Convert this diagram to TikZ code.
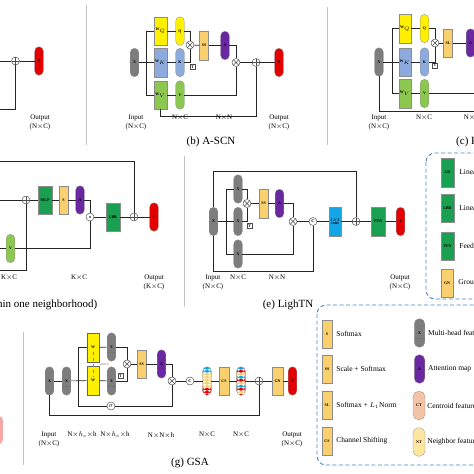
\documentclass[tikz,border=0pt]{standalone}
\usepackage{fontspec}
\setmainfont{Liberation Serif}
\usetikzlibrary{positioning,calc}
\definecolor{wyellow}{RGB}{255,240,0}
\definecolor{smx}{RGB}{250,207,110}
\definecolor{kblue}{RGB}{140,170,220}
\definecolor{vgreen}{RGB}{140,200,80}
\definecolor{lgreen}{RGB}{25,160,80}
\definecolor{attn}{RGB}{105,40,160}
\definecolor{outred}{RGB}{228,0,0}
\definecolor{headgray}{RGB}{125,125,125}
\definecolor{convblue}{RGB}{20,165,230}
\definecolor{ctpeach}{RGB}{245,195,165}
\definecolor{ntcream}{RGB}{255,230,160}
\definecolor{dashblue}{RGB}{70,135,190}
\definecolor{sepgray}{RGB}{195,195,195}
\tikzset{
  wire/.style={draw=black!85, line width=0.65pt},
  blk/.style={
    draw         = black!45,
    line width   = 0.3pt,
    minimum width  = 12.5pt,
    minimum height = 28.5pt,
    inner sep    = 0pt,
    align        = center,
    font         = \fontsize{4}{4}\selectfont\bfseries},
  feat/.style={blk, rounded corners=4.3pt, minimum width=8.6pt},
  smxbox/.style={blk, fill=smx, minimum width=9pt},
  op/.style={
    circle,
    draw       = black!70,
    fill       = white,
    line width = 0.45pt,
    minimum size = 8pt,
    inner sep  = 0pt,
    font       = \fontsize{4.5}{4.5}\selectfont\bfseries},
  addop/.style={op, path picture={
    \draw[black!70, line width=0.4pt]
      (path picture bounding box.north) -- (path picture bounding box.south)
      (path picture bounding box.west) -- (path picture bounding box.east);}},
  mulop/.style={op, path picture={
    \draw[black!70, line width=0.4pt]
      (path picture bounding box.north west) -- (path picture bounding box.south east)
      (path picture bounding box.north east) -- (path picture bounding box.south west);}},
  dotop/.style={op, path picture={
    \fill[black] (path picture bounding box.center) circle (0.9pt);}},
  catop/.style={op},
  trbox/.style={draw=black!70, fill=white, line width=0.3pt, minimum size=5pt,
    inner sep=0pt, font=\fontsize{4}{4}\selectfont\bfseries},
  stripes/.style={path picture={
    \foreach \c [count=\i from 0] in {#1}
      \fill[\c] ([yshift=-\i*3pt]path picture bounding box.north west)
        rectangle ([yshift=-\i*3pt-3pt]path picture bounding box.north east);}},
  headsplit/.style={path picture={
    \draw[black!55, line width=0.3pt]
      ([yshift=-5pt]path picture bounding box.west) -- ([yshift=-5pt]path picture bounding box.east);}},
  dimlbl/.style={font=\fontsize{7}{8.5}\selectfont, align=center, inner sep=0pt},
  subcap/.style={font=\fontsize{11}{12}\selectfont, inner sep=0pt},
  divider/.style={draw=sepgray, line width=0.9pt},
  legendbox/.style={draw=dashblue, dash pattern=on 4pt off 2.5pt, line width=0.9pt,
    rounded corners=9pt},
  lgtext/.style={font=\fontsize{7.5}{8}\selectfont, inner sep=0pt}
}

\begin{document}
\begin{tikzpicture}[x=1pt, y=-1pt]
\useasboundingbox (0,0) rectangle (474,474);

% (a), right end only
\coordinate (ain) at (-5,61);
\coordinate (ares) at (-5,109);
\node[addop] (aadd) at (15.5,61) {};
\node[feat, fill=outred] (aout) at (39,61) {Y};
\draw[wire] (ain) -- (aadd);
\draw[wire] (aadd) -- (aout);
\draw[wire] (ares) -| (aadd);
\node[dimlbl] (aoutlbl) at (40,122.5) {Output\\(N$\times$C)};

\draw[divider] (86,5) -- (86,145);

% (b) A-SCN
\node[feat, fill=headgray] (bx) at (134.5,62.5) {X};
\coordinate (bsplit) at (146,62.5);
\node[blk, fill=wyellow] (bwq) at (160.5,31) {W$_Q$};
\node[feat, fill=wyellow] (bq) at (180,31) {Q};
\node[blk, fill=kblue] (bwk) at (160.5,62.5) {W$_K$};
\node[feat, fill=kblue] (bk) at (180,62.5) {K};
\node[blk, fill=vgreen] (bwv) at (160.5,95) {W$_V$};
\node[feat, fill=vgreen] (bv) at (180,95) {V};
\node[mulop] (bm1) at (190,45) {};
\node[trbox] (bt) at (192.5,67) {T};
\node[smxbox] (bss) at (204,45.5) {SS};
\node[feat, fill=attn] (ba) at (225,45.5) {A};
\node[mulop] (bm2) at (236,62.5) {};
\node[addop] (badd) at (256,62.5) {};
\node[feat, fill=outred] (bout) at (279,62.5) {Y};

\draw[wire] (bx) -- (bwk);
\draw[wire] (bsplit) |- (bwq);
\draw[wire] (bsplit) |- (bwv);
\draw[wire] (bwq) -- (bq);
\draw[wire] (bwk) -- (bk);
\draw[wire] (bwv) -- (bv);
\draw[wire] (bq) -| (bm1);
\draw[wire] (bk) -| (bm1);
\draw[wire] (bm1) -- (bss);
\draw[wire] (bss) -- (ba);
\draw[wire] (ba) -| (bm2);
\draw[wire] (bv) -| (bm2);
\draw[wire] (bm2) -- (badd);
\draw[wire] (badd) -- (bout);
\draw[wire] (bwv.south) -- ++(0,7) -| (badd);

\node[dimlbl] (binlbl) at (136,122.5) {Input\\(N$\times$C)};
\node[dimlbl] (bnc) at (180,118) {N$\times$C};
\node[dimlbl] (bnn) at (224,118) {N$\times$N};
\node[dimlbl] (boutlbl) at (279,122.5) {Output\\(N$\times$C)};
\node[subcap] (bcap) at (211,142) {(b) A-SCN};

\draw[divider] (327,7) -- (327,145);

% (c), left part
\node[feat, fill=headgray] (cx) at (379,62) {X};
\coordinate (csplit) at (392,62);
\node[blk, fill=wyellow] (cwq) at (405,28.5) {W$_Q$};
\node[feat, fill=wyellow] (cq) at (424.5,28.5) {Q};
\node[blk, fill=kblue] (cwk) at (405,62) {W$_K$};
\node[feat, fill=kblue] (ck) at (424.5,62) {K};
\node[blk, fill=vgreen] (cwv) at (405,93.5) {W$_V$};
\node[feat, fill=vgreen] (cv) at (424.5,93.5) {V};
\node[mulop] (cm) at (435,43) {};
\node[trbox] (ct) at (435,65.5) {T};
\node[smxbox] (csl) at (448,43) {SL};
\node[feat, fill=attn] (ca) at (470.5,43) {A};
\coordinate (cvend) at (480,93.5);
\coordinate (cresend) at (480,111);

\draw[wire] (cx) -- (cwk);
\draw[wire] (csplit) |- (cwq);
\draw[wire] (csplit) |- (cwv);
\draw[wire] (cwq) -- (cq);
\draw[wire] (cwk) -- (ck);
\draw[wire] (cwv) -- (cv);
\draw[wire] (cq) -| (cm);
\draw[wire] (ck) -| (cm);
\draw[wire] (cm) -- (csl);
\draw[wire] (csl) -- (ca);
\draw[wire] (cv) -- (cvend);
\draw[wire] (cx) |- (cresend);

\node[dimlbl] (cinlbl) at (379,122.5) {Input\\(N$\times$C)};
\node[dimlbl] (cnc) at (424,118) {N$\times$C};
\node[dimlbl] (cnn) at (472,118) {N$\times$N};
\node[subcap, anchor=west] (ccap) at (456,142) {(c) PCT};

% (d), right part
\coordinate (dtop) at (-5,161);
\coordinate (din) at (-5,200);
\coordinate (dvin) at (-5,248.5);
\coordinate (dres) at (-5,270);
\node[addop] (dadd1) at (26,200) {};
\node[blk, fill=lgreen, minimum width=14pt] (dmlp) at (45,200) {MLP};
\node[smxbox] (ds) at (63.5,200) {S};
\node[feat, fill=attn] (da) at (80,200) {A};
\node[dotop] (ddot) at (90,217) {};
\node[blk, fill=lgreen, minimum width=14pt] (dlbr) at (113,217) {LBR};
\node[addop] (dadd2) at (134,217) {};
\node[feat, fill=outred] (dout) at (154,217) {Y};
\node[feat, fill=vgreen] (dv) at (10.5,248.5) {V};

\draw[wire] (din) -- (dadd1);
\draw[wire] (dadd1) -- (dmlp);
\draw[wire] (dmlp) -- (ds);
\draw[wire] (ds) -- (da);
\draw[wire] (da) -| (ddot);
\draw[wire] (dvin) -- (dv);
\draw[wire] (dv) -| (ddot);
\draw[wire] (dres) -| (dadd1);
\draw[wire] (ddot) -- (dlbr);
\draw[wire] (dlbr) -- (dadd2);
\draw[wire] (dadd2) -- (dout);
\draw[wire] (dtop) -| (dadd2);

\node[dimlbl] (dkc1) at (9,278) {K$\times$C};
\node[dimlbl] (dkc2) at (79,278) {K$\times$C};
\node[dimlbl] (doutlbl) at (154,282.5) {Output\\(K$\times$C)};
\node[subcap, anchor=east] (dcap) at (97.5,305) {(d) Point Transformer (within one neighborhood)};

\draw[divider] (184,156) -- (184,307);

% (e) LighTN
\node[feat, fill=headgray] (ex) at (213.5,221.5) {X};
\coordinate (esplit) at (226,221.5);
\node[feat, fill=headgray] (eq) at (238,189) {X};
\node[feat, fill=headgray] (ek) at (238,221.5) {X};
\node[feat, fill=headgray] (ev) at (238,254) {X};
\node[mulop] (em1) at (247,203.5) {};
\node[trbox] (et) at (249.5,226) {T};
\node[smxbox] (ess) at (263.5,203.5) {SS};
\node[feat, fill=attn] (ea) at (279.5,203.5) {A};
\node[mulop] (em2) at (293,221.5) {};
\node[catop] (ecat) at (313,221.5) {C};
\node[blk, fill=convblue] (econv) at (335,221.5) {1$\times$1\\[-1pt]conv};
\node[addop] (eadd) at (356,221.5) {};
\node[blk, fill=lgreen, minimum width=14pt] (effn) at (378,221.5) {FFN};
\node[feat, fill=outred] (eout) at (400.5,221.5) {Y};
\coordinate (etopc) at (356,171);
\coordinate (ebotc) at (313,271);

\draw[wire] (ex) -- (ek);
\draw[wire] (esplit) |- (eq);
\draw[wire] (esplit) |- (ev);
\draw[wire] (eq) -| (em1);
\draw[wire] (ek) -| (em1);
\draw[wire] (em1) -- (ess);
\draw[wire] (ess) -- (ea);
\draw[wire] (ea) -| (em2);
\draw[wire] (ev) -| (em2);
\draw[wire] (em2) -- (ecat);
\draw[wire] (ecat) -- (econv);
\draw[wire] (econv) -- (eadd);
\draw[wire] (eadd) -- (effn);
\draw[wire] (effn) -- (eout);
\draw[wire] (ex) |- (etopc) -- (eadd);
\draw[wire] (ex) |- (ebotc) -- (ecat);

\node[dimlbl] (einlbl) at (213,282.5) {Input\\(N$\times$C)};
\node[dimlbl] (enc) at (238,278) {N$\times$C};
\node[dimlbl] (enn) at (277,278) {N$\times$N};
\node[dimlbl] (eoutlbl) at (400,282.5) {Output\\(N$\times$C)};
\node[subcap] (ecap) at (288,305) {(e) LighTN};

% (g) GSA
\node[feat, fill=outred!35, draw=none] (fout) at (-1.5,430) {};
\draw[divider] (23,332) -- (23,465);

\node[feat, fill=headgray] (gx) at (49.5,381) {X};
\node[feat, fill=headgray, headsplit] (gx2) at (66.5,381) {X};
\coordinate (gsplit) at (78,381);
\node[blk, fill=wyellow, draw=black!60] (gw1) at (93,347.5) {W};
\node[blk, fill=wyellow, draw=black!60] (gw2) at (93,380.5) {W};
\node[feat, fill=headgray, headsplit] (gh1) at (111.5,347) {X};
\node[feat, fill=headgray, headsplit] (gh2) at (111.5,381) {X};
\node[trbox] (gt) at (120.5,376) {T};
\node[mulop] (gm1) at (127,364) {};
\node[smxbox] (gss) at (141.5,364) {SS};
\node[feat, fill=attn] (ga) at (161.5,364) {A};
\node[mulop] (gm2) at (172,381) {};
\node[op, font=\fontsize{6}{6}\selectfont] (gsig) at (111,406) {$\sigma$};
\node[catop] (gcat) at (190,381) {C};
\node[feat, stripes={convblue,convblue,smx,smx,smx,smx,smx,outred,outred,outred}] (gct) at (207,381) {};
\node[smxbox, minimum width=10pt] (gcs) at (224,381) {CS};
\node[feat, stripes={convblue,outred,smx,convblue,outred,smx,convblue,outred,smx,outred}] (gnt) at (241,381) {};
\node[addop] (gadd) at (259,381) {};
\node[blk, fill=smx, minimum width=11pt] (ggn) at (277.5,381) {GN};
\node[feat, fill=outred] (gout) at (292.5,381) {Y};
\coordinate (gbot) at (259,415);

\draw[black!50, dashed, line width=0.3pt] ([yshift=-4pt]gw1.center) -- ([yshift=4pt]gw2.center);
\node[font=\fontsize{3.5}{4}\selectfont, text=black!50, inner sep=0pt] (gshared) at (104,364) {shared};

\draw[wire] (gx) -- (gx2);
\draw[wire] (gx2) -- (gw2);
\draw[wire] (gsplit) |- (gw1);
\draw[wire] (gw1) -- (gh1);
\draw[wire] (gw2) -- (gh2);
\draw[wire] (gh1) -| (gm1);
\draw[wire] (gh2) -| (gm1);
\draw[wire] (gm1) -- (gss);
\draw[wire] (gss) -- (ga);
\draw[wire] (ga) -| (gm2);
\draw[wire] (gsplit) |- (gsig);
\draw[wire] (gsig) -| (gm2);
\draw[wire] (gm2) -- (gcat);
\draw[wire] (gcat) -- (gct);
\draw[wire] (gct) -- (gcs);
\draw[wire] (gcs) -- (gnt);
\draw[wire] (gnt) -- (gadd);
\draw[wire] (gadd) -- (ggn);
\draw[wire] (ggn) -- (gout);
\draw[wire] (gx) |- (gbot) -- (gadd);

\node[dimlbl] (ginlbl) at (49,439.5) {Input\\(N$\times$C)};
\node[dimlbl] (gdim1) at (82,435) {N$\times h_c\times$h};
\node[dimlbl] (gdim2) at (115,435) {N$\times h_c\times$h};
\node[dimlbl] (gdim3) at (161,435) {N$\times$N$\times$h};
\node[dimlbl] (gdim4) at (207,435) {N$\times$C};
\node[dimlbl] (gdim5) at (241,435) {N$\times$C};
\node[dimlbl] (goutlbl) at (292,439.5) {Output\\(N$\times$C)};
\node[subcap] (gcap) at (190,463) {(g) GSA};

% legends
\draw[legendbox] (426,153) rectangle (560,299);
\node[blk, fill=lgreen, minimum width=13pt] (lglr) at (447.5,172.5) {LR};
\node[lgtext, right=5pt of lglr] (lglrt) {Linear + ReLU};
\node[blk, fill=lgreen, minimum width=13pt] (lglbr) at (447.5,208) {LBR};
\node[lgtext, right=5pt of lglbr] (lglbrt) {Linear + BN + ReLU};
\node[blk, fill=lgreen, minimum width=13pt] (lgffn) at (447.5,246) {FFN};
\node[lgtext, right=5pt of lgffn] (lgffnt) {Feed-Forward Network};
\node[blk, fill=smx, minimum width=12pt] (lggn) at (447,283) {GN};
\node[lgtext, right=5pt of lggn] (lggnt) {Group Norm};

\draw[legendbox] (317,305) rectangle (600,465);
\node[smxbox, minimum width=10pt] (lgs) at (327,334) {S};
\node[lgtext, right=4pt of lgs] (lgst) {Softmax};
\node[smxbox, minimum width=10pt] (lgss) at (327,369) {SS};
\node[lgtext, right=4pt of lgss] (lgsst) {Scale + Softmax};
\node[smxbox, minimum width=10pt] (lgsl) at (327,405) {SL};
\node[lgtext, right=4pt of lgsl] (lgslt) {Softmax + $L_1$Norm};
\node[smxbox, minimum width=10pt] (lgcs) at (327,441) {CS};
\node[lgtext, right=4pt of lgcs] (lgcst) {Channel Shifting};
\node[feat, fill=headgray, minimum width=10.5pt, rounded corners=5pt, headsplit] (lgx) at (419.5,333) {X};
\node[lgtext, right=3pt of lgx] (lgxt) {Multi-head feature};
\node[feat, fill=attn, minimum width=10.5pt, rounded corners=5pt] (lga) at (419.5,369) {A};
\node[lgtext, right=3pt of lga] (lgat) {Attention map};
\node[feat, fill=ctpeach, minimum width=12pt, rounded corners=5.5pt] (lgct) at (419,405.5) {CT};
\node[lgtext, right=2pt of lgct] (lgctt) {Centroid feature};
\node[feat, fill=ntcream, minimum width=12pt, rounded corners=5.5pt] (lgnt) at (419,442) {NT};
\node[lgtext, right=2pt of lgnt] (lgntt) {Neighbor feature};

\end{tikzpicture}
\end{document}
